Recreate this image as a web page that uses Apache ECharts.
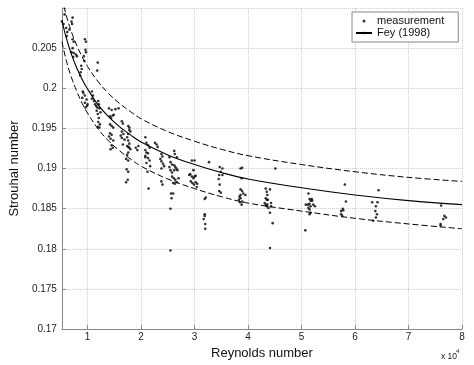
<!DOCTYPE html>
<html>
<head>
<meta charset="utf-8">
<script src="https://cdn.jsdelivr.net/npm/echarts@6/dist/echarts.min.js"></script>
<style>html,body{margin:0;padding:0;background:#fff;}#c{width:474px;height:365px;}</style>
</head>
<body>
<div id="c"></div>
<script>
// Reynolds number in units of 1e4
var xTicks = [1, 2, 3, 4, 5, 6, 7, 8];
var curveRe = [0.52, 0.6, 0.7, 0.8, 0.9, 1.0, 1.2, 1.4, 1.6, 1.8, 2.0, 2.5, 3, 3.5, 4, 5, 6, 7, 8];
var feySt   = [0.2085, 0.2063, 0.2042, 0.2025, 0.2011, 0.1999, 0.1979, 0.1964, 0.1952, 0.1942, 0.1933, 0.1917, 0.1905, 0.1895, 0.1887, 0.1876, 0.1867, 0.1860, 0.1855];
var upperSt = [0.2113, 0.2091, 0.2070, 0.2053, 0.2039, 0.2027, 0.2008, 0.1993, 0.1981, 0.1971, 0.1962, 0.1946, 0.1934, 0.1924, 0.1916, 0.1905, 0.1896, 0.1889, 0.1884];
var lowerSt = [0.2058, 0.2035, 0.2013, 0.1996, 0.1981, 0.1969, 0.1949, 0.1934, 0.1922, 0.1912, 0.1903, 0.1887, 0.1875, 0.1865, 0.1857, 0.1847, 0.1838, 0.1831, 0.1825];
var measurement = [
[0.52,0.2083],[0.55,0.2080],[0.57,0.2092],[0.60,0.2075],[0.62,0.2070],[0.61,0.2065],[0.70,0.2083],[0.72,0.2088],[0.71,0.2080],[0.72,0.2061],[0.74,0.2058],[0.72,0.2050],[0.70,0.2045],[0.74,0.2044],[0.73,0.2039],[0.78,0.2042],[0.80,0.2040],[0.66,0.2073],
[0.95,0.2061],[0.97,0.2058],[0.96,0.2048],[0.97,0.2045],[0.93,0.2040],[0.94,0.2034],[0.88,0.2028],[0.89,0.2024],[0.87,0.2020],[0.86,0.2016],[0.92,0.1994],[0.95,0.1991],[0.90,0.1988],[0.98,0.1986],[0.95,0.1982],[1.00,0.1980],[0.96,0.1976],[0.91,0.1996],[0.99,0.1978],
[1.19,0.2032],[1.18,0.2022],[1.08,0.1996],[1.10,0.1991],[1.08,0.1987],[1.12,0.1984],[1.14,0.1980],[1.16,0.1978],[1.18,0.1976],[1.20,0.1984],[1.22,0.1975],[1.19,0.1968],[1.21,0.1963],[1.20,0.1958],[1.23,0.1955],[1.19,0.1952],[1.22,0.1951],[1.24,0.1970],[1.21,0.1980],[1.17,0.1972],
[1.40,0.1975],[1.45,0.1973],[1.52,0.1974],[1.58,0.1975],[1.42,0.1965],[1.44,0.1963],[1.47,0.1966],[1.49,0.1967],[1.42,0.1955],[1.45,0.1953],[1.48,0.1951],[1.42,0.1944],[1.45,0.1942],[1.40,0.1940],[1.43,0.1937],[1.48,0.1935],[1.45,0.1929],[1.47,0.1926],[1.43,0.1924],
[1.64,0.1959],[1.66,0.1956],[1.64,0.1946],[1.67,0.1943],[1.62,0.1941],[1.64,0.1938],[1.69,0.1936],[1.66,0.1930],
[1.76,0.1953],[1.78,0.1951],[1.78,0.1948],[1.80,0.1946],[1.76,0.1943],[1.74,0.1939],[1.76,0.1935],[1.78,0.1931],[1.74,0.1928],[1.76,0.1927],[1.78,0.1926],[1.80,0.1924],[1.76,0.1920],[1.74,0.1917],[1.72,0.1912],[1.76,0.1910],[1.76,0.1896],[1.73,0.1899],[1.72,0.1883],[1.75,0.1886],
[1.90,0.1926],[1.93,0.1923],[1.95,0.1928],
[2.08,0.1939],[2.10,0.1932],[2.13,0.1929],[2.16,0.1926],[2.08,0.1923],[2.10,0.1920],[2.13,0.1919],[2.08,0.1916],[2.13,0.1913],[2.16,0.1910],[2.10,0.1907],[2.08,0.1914],[2.14,0.1875],[2.17,0.1903],[2.12,0.1896],
[2.26,0.1932],[2.29,0.1930],[2.31,0.1927],[2.38,0.1918],[2.40,0.1915],[2.36,0.1912],[2.38,0.1909],[2.41,0.1906],[2.43,0.1903],[2.38,0.1900],[2.38,0.1884],[2.40,0.1880],
[2.53,0.1914],[2.55,0.1908],[2.58,0.1905],[2.53,0.1902],[2.55,0.1898],[2.58,0.1895],[2.62,0.1922],[2.63,0.1918],[2.67,0.1914],[2.62,0.1904],[2.64,0.1902],[2.66,0.1900],[2.62,0.1898],[2.68,0.1898],[2.58,0.1890],[2.61,0.1888],[2.64,0.1886],[2.67,0.1883],[2.70,0.1888],[2.60,0.1882],[2.63,0.1881],[2.56,0.1869],[2.57,0.1863],[2.55,0.1850],[2.55,0.1798],[2.60,0.1869],
[2.95,0.1910],[3.00,0.1910],[2.98,0.1898],[2.92,0.1893],[2.95,0.1890],[2.98,0.1888],[3.00,0.1890],[3.02,0.1891],[2.93,0.1884],[2.96,0.1882],[2.99,0.1880],[3.02,0.1883],[3.05,0.1881],[2.90,0.1892],[3.04,0.1877],
[3.27,0.1908],[3.19,0.1862],[3.21,0.1864],[3.19,0.1843],[3.19,0.1841],[3.17,0.1837],[3.20,0.1831],[3.20,0.1825],
[3.47,0.1902],[3.52,0.1900],[3.49,0.1896],[3.46,0.1892],[3.52,0.1892],[3.45,0.1887],[3.47,0.1880],[3.46,0.1872],[3.49,0.1870],
[3.86,0.1900],[3.89,0.1901],[3.88,0.1888],[3.86,0.1874],[3.89,0.1872],[3.91,0.1869],[3.86,0.1867],[3.84,0.1865],[3.86,0.1863],[3.83,0.1861],[3.85,0.1858],[3.89,0.1859],[3.95,0.1867],[3.88,0.1855],
[4.51,0.1900],[4.33,0.1875],[4.35,0.1871],[4.36,0.1867],[4.33,0.1863],[4.35,0.1861],[4.37,0.1861],[4.31,0.1857],[4.33,0.1855],[4.35,0.1853],[4.36,0.1855],[4.38,0.1851],[4.41,0.1874],[4.43,0.1857],[4.43,0.1853],[4.41,0.1845],[4.46,0.1832],[4.41,0.1801],
[5.13,0.1869],[5.15,0.1862],[5.17,0.1860],[5.19,0.1862],[5.20,0.1860],[5.12,0.1855],[5.15,0.1856],[5.17,0.1853],[5.13,0.1851],[5.15,0.1849],[5.22,0.1855],[5.17,0.1845],[5.15,0.1843],[5.08,0.1855],[5.07,0.1823],[5.25,0.1853],
[5.81,0.1880],[5.83,0.1859],[5.77,0.1850],[5.78,0.1848],[5.74,0.1847],[5.74,0.1843],[5.76,0.1841],
[6.44,0.1873],[6.32,0.1858],[6.42,0.1858],[6.39,0.1853],[6.38,0.1847],[6.41,0.1843],[6.39,0.1839],[6.34,0.1835],
[7.61,0.1854],[7.67,0.1841],[7.70,0.1839],[7.65,0.1837],[7.60,0.1831],[7.60,0.1829]
];

function pairs(xs, ys) { return xs.map(function (x, i) { return [x, ys[i]]; }); }

var FONT = 'Liberation Sans';
var chart = echarts.init(document.getElementById('c'), null, { renderer: 'canvas' });
chart.setOption({
  animation: false,
  backgroundColor: '#fff',
  textStyle: { fontFamily: FONT },
  grid: { left: 43, right: 12, top: 8, bottom: 30, containLabel: false },
  legend: {
    left: 352, top: 12,
    orient: 'vertical',
    backgroundColor: '#fff',
    borderColor: '#888', borderWidth: 1,
    padding: [3, 14, 3, 3],
    itemGap: 0,
    itemWidth: 16, itemHeight: 3,
    itemTextGap: 4,
    textStyle: { fontFamily: FONT, fontSize: 11, color: '#111', lineHeight: 12 },
    data: [{ name: 'measurement', icon: 'circle' }, { name: 'Fey (1998)' }]
  },
  xAxis: {
    type: 'value', min: 0.52, max: 8,
    name: 'Reynolds number', nameLocation: 'middle', nameGap: 10,
    nameTextStyle: { fontFamily: FONT, fontSize: 13, color: '#111' },
    axisLine: { show: true, onZero: false, lineStyle: { color: '#888', width: 1 } },
    axisTick: { show: true, inside: true, length: 4, customValues: xTicks, lineStyle: { color: '#888' } },
    axisLabel: { customValues: xTicks, margin: 3, fontSize: 10, color: '#222', fontFamily: FONT },
    splitLine: { show: true, lineStyle: { color: '#cccccc', type: 'dotted', width: 1 } }
  },
  yAxis: {
    type: 'value', min: 0.17, max: 0.21, interval: 0.005,
    name: 'Strouhal number', nameLocation: 'middle', nameGap: 27,
    nameTextStyle: { fontFamily: FONT, fontSize: 13, color: '#111' },
    axisLine: { show: true, onZero: false, lineStyle: { color: '#888', width: 1 } },
    axisTick: { show: true, inside: true, length: 4, lineStyle: { color: '#888' } },
    axisLabel: {
      margin: 5, fontSize: 10, color: '#222', fontFamily: FONT,
      formatter: function (v) { if (v > 0.2095) return ''; return String(+v.toFixed(3)); }
    },
    splitLine: { show: true, lineStyle: { color: '#cccccc', type: 'dotted', width: 1 } }
  },
  graphic: [
    { type: 'text', left: 441, top: 352, style: { text: 'x 10', fontFamily: FONT, fontSize: 8.5, fill: '#222' } },
    { type: 'text', left: 456, top: 348, style: { text: '4', fontFamily: FONT, fontSize: 6, fill: '#222' } }
  ],
  series: [
    {
      name: 'measurement', type: 'scatter', data: measurement,
      symbol: 'circle', symbolSize: 2.6, itemStyle: { color: '#000' }, z: 5
    },
    {
      name: 'Fey (1998)', type: 'line', data: pairs(curveRe, feySt),
      smooth: 0.4, symbol: 'none', showSymbol: false,
      lineStyle: { color: '#000', width: 1.1 }, itemStyle: { color: '#000' }, z: 4
    },
    {
      name: 'upper', type: 'line', data: pairs(curveRe, upperSt),
      smooth: 0.4, symbol: 'none', showSymbol: false, clip: true,
      lineStyle: { color: '#000', width: 1, type: [6, 3] }, z: 4
    },
    {
      name: 'lower', type: 'line', data: pairs(curveRe, lowerSt),
      smooth: 0.4, symbol: 'none', showSymbol: false,
      lineStyle: { color: '#000', width: 1, type: [6, 3] }, z: 4
    }
  ]
});
</script>
</body>
</html>
